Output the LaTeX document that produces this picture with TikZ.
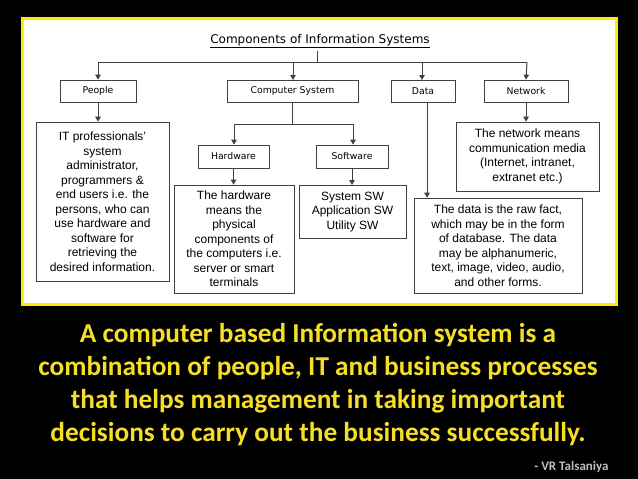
\documentclass[tikz,border=0pt]{standalone}
\usepackage{fontspec}
\setmainfont{Liberation Sans}
\newfontfamily\labfont{DejaVu Sans}
\newfontfamily\capfont{Carlito}
\usetikzlibrary{arrows.meta}
\definecolor{capy}{RGB}{245,222,40}
\tikzset{
 lbl/.style={draw=black!75,line width=0.7pt,fill=white,inner sep=0pt,font=\labfont\fontsize{9.3}{10}\selectfont},
 txt/.style={draw=black!75,line width=0.7pt,fill=white,inner sep=0pt,align=center,font=\fontsize{12}{14.5}\selectfont},
 con/.style={black!75,line width=1pt},
 arr/.style={con,-{Triangle[length=5pt,width=5.5pt]}},
 captext/.style={text=capy,font=\capfont\bfseries\fontsize{27.3}{33}\selectfont,align=center}
}
\begin{document}
\begin{tikzpicture}[x=1pt,y=-1pt]
\fill[black] (0,0) rectangle (638,479);
\useasboundingbox (0,0) rectangle (638,479);
\draw[yellow!95!orange,line width=3pt,fill=white] (22,18) rectangle (616,304);
\node[font=\labfont\fontsize{12}{13}\selectfont] (title) at (320,41) {\underline{Components of Information Systems}};
\node[lbl,minimum width=76pt,minimum height=22pt] (people) at (98,91) {People};
\node[lbl,minimum width=131pt,minimum height=22pt] (cs) at (292.5,91) {Computer System};
\node[lbl,minimum width=64pt,minimum height=22pt] (data) at (423,91) {Data};
\node[lbl,minimum width=84pt,minimum height=22pt] (net) at (526,91) {Network};
\node[txt,minimum width=133pt,minimum height=159pt] (pc) at (102.5,201.5) {IT professionals'\\system\\administrator,\\programmers \&\\end users i.e. the\\persons, who can\\use hardware and\\software for\\retrieving the\\desired information.};
\node[lbl,minimum width=71pt,minimum height=23pt] (hw) at (233.5,156.5) {Hardware};
\node[lbl,minimum width=72pt,minimum height=23pt] (sw) at (352,156.5) {Software};
\node[txt,minimum width=120pt,minimum height=108pt] (hc) at (234,239) {The hardware\\means the\\physical\\components of\\the computers i.e.\\server or smart\\terminals};
\node[txt,minimum width=107pt,minimum height=53pt,anchor=north] (sc) at (352.5,185) {System SW\\Application SW\\Utility SW};
\node[txt,minimum width=168pt,minimum height=95pt] (dc) at (498,245.5) {The data is the raw fact,\\which may be in the form\\of database. The data\\may be alphanumeric,\\text, image, video, audio,\\and other forms.};
\node[txt,minimum width=143pt,minimum height=69pt] (nc) at (527.5,156.5) {The network means\\communication media\\(Internet, intranet,\\extranet etc.)};
\coordinate (tj) at (317,62);
\draw[con] (title.south -| tj) -- (tj);
\draw[con] (98,62) -- (527,62);
\draw[arr] (98,62) -- (people.north);
\draw[arr] (293,62) -- (293,80);
\draw[arr] (422,62) -- (422,80);
\draw[arr] (527,62) -- (net.north);
\draw[arr] (people.south) -- (pc.north -| people.south);
\draw[con] (cs.south) -- (292.5,124);
\draw[con] (234,124) -- (353,124);
\draw[arr] (234,124) -- (hw.north -| 234,0);
\draw[arr] (353,124) -- (sw.north -| 353,0);
\draw[arr] (hw.south) -- (hc.north -| hw.south);
\draw[arr] (sw.south) -- (sc.north -| sw.south);
\draw[arr] (427,102) -- (dc.north -| 427,0);
\draw[arr] (net.south) -- (nc.north -| net.south);
\node[captext] (c) at (318,385) {A computer based Information system is a\\combination of people, IT and business processes\\that helps management in taking important\\decisions to carry out the business successfully.};
\node[text=black!25,font=\capfont\bfseries\fontsize{13}{14}\selectfont,anchor=east] (a) at (612,467) {- VR Talsaniya};
\end{tikzpicture}
\end{document}
